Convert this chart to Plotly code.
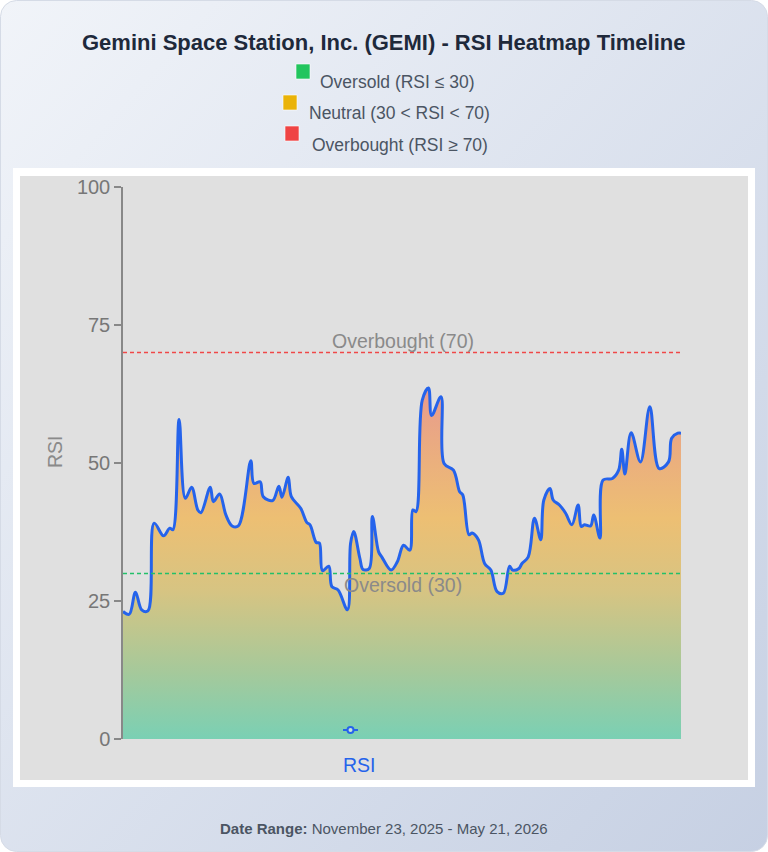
import base64
import plotly.graph_objects as go

# ---------------- data ----------------
dates = [
    "2025-11-23", "2025-11-25", "2025-11-27", "2025-11-29", "2025-12-01", "2025-12-03",
    "2025-12-06", "2025-12-08", "2025-12-09", "2025-12-11", "2025-12-13", "2025-12-15",
    "2025-12-17", "2025-12-18", "2025-12-21", "2025-12-22", "2025-12-24", "2025-12-26",
    "2025-12-28", "2025-12-30", "2026-01-03", "2026-01-04", "2026-01-06", "2026-01-07",
    "2026-01-10", "2026-01-12", "2026-01-13", "2026-01-15", "2026-01-16", "2026-01-19",
    "2026-01-21", "2026-01-22", "2026-01-24", "2026-01-25", "2026-01-26", "2026-01-28",
    "2026-01-29", "2026-01-31", "2026-02-03", "2026-02-04", "2026-02-05", "2026-02-07",
    "2026-02-08", "2026-02-10", "2026-02-11", "2026-02-13", "2026-02-14", "2026-02-17",
    "2026-02-19", "2026-02-21", "2026-02-23", "2026-02-24", "2026-02-25", "2026-02-27",
    "2026-03-01", "2026-03-02", "2026-03-05", "2026-03-06", "2026-03-09", "2026-03-11",
    "2026-03-12", "2026-03-14", "2026-03-15", "2026-03-17", "2026-03-19", "2026-03-21",
    "2026-03-23", "2026-03-25", "2026-03-27", "2026-03-28", "2026-03-30", "2026-03-31",
    "2026-04-02", "2026-04-04", "2026-04-06", "2026-04-07", "2026-04-09", "2026-04-10",
    "2026-04-12", "2026-04-14", "2026-04-16", "2026-04-18", "2026-04-19", "2026-04-20",
    "2026-04-22", "2026-04-23", "2026-04-25", "2026-04-26", "2026-04-29", "2026-05-01",
    "2026-05-02", "2026-05-03", "2026-05-05", "2026-05-08", "2026-05-11", "2026-05-14",
    "2026-05-17", "2026-05-18", "2026-05-20", "2026-05-21",
]
rsi = [
    23.1, 22.6, 26.6, 23.4, 23.2, 39.1,
    36.8, 38.2, 37.9, 57.9, 43.6, 45.6,
    41.5, 41.0, 45.6, 43.0, 44.4, 40.6,
    38.6, 38.6, 50.4, 46.3, 46.6, 43.9,
    43.2, 45.8, 43.8, 47.4, 43.9, 41.8,
    39.2, 38.8, 35.6, 35.5, 30.5, 31.3,
    27.6, 27.0, 23.4, 35.4, 37.6, 32.7,
    30.7, 30.9, 40.3, 33.9, 33.0, 30.6,
    32.1, 35.1, 34.2, 41.5, 41.2, 61.4,
    63.6, 58.6, 62.0, 49.9, 48.7, 44.8,
    44.2, 37.0, 37.3, 36.1, 31.8, 30.6,
    26.7, 26.4, 31.3, 30.6, 30.9, 31.8,
    33.0, 40.0, 36.1, 43.3, 45.4, 43.3,
    42.4, 40.9, 38.8, 42.4, 38.5, 38.8,
    38.6, 40.6, 36.4, 46.9, 47.2, 48.7,
    52.5, 48.0, 55.5, 50.2, 60.2, 49.0,
    50.2, 54.5, 55.4, 55.4,
]
y_ticks = [0, 25, 50, 75, 100]
overbought_level = 70
oversold_level = 30
legend_labels = ["Oversold (RSI ≤ 30)", "Neutral (30 < RSI < 70)", "Overbought (RSI ≥ 70)"]
legend_colors = ["#22c55e", "#eab308", "#ef4444"]
title_text = "Gemini Space Station, Inc. (GEMI) - RSI Heatmap Timeline"
date_range_text = "<b>Date Range:</b> November 23, 2025 - May 21, 2026"

# ---------------- layout geometry ----------------
W, H = 768, 852
L, R, T, B = 123, 681, 187, 739  # plot area in px
PW, PH = R - L, B - T


def px(x):
    return (x - L) / PW


def py(y):
    return (B - y) / PH


FONT = "Liberation Sans, Arial, sans-serif"

fig = go.Figure()
fig.add_trace(go.Scatter(
    x=dates, y=rsi, mode="lines", name="RSI",
    line=dict(color="#2563eb", width=3, shape="spline", smoothing=1.0),
    fill="tozeroy",
    fillgradient=dict(
        type="vertical", start=0, stop=100,
        colorscale=[
            [0.0, "rgb(122,208,180)"],
            [0.12, "rgb(165,201,155)"],
            [0.27, "rgb(215,196,130)"],
            [0.40, "rgb(237,191,115)"],
            [0.50, "rgb(235,176,125)"],
            [0.64, "rgb(232,154,142)"],
            [1.0, "rgb(232,120,120)"],
        ],
    ),
    showlegend=False,
    hoverinfo="x+y",
))

# background card gradient as svg image
svg = (
    f'<svg xmlns="http://www.w3.org/2000/svg" width="{W}" height="{H}">'
    '<defs><linearGradient id="g" x1="0" y1="0" x2="1" y2="1">'
    '<stop offset="0" stop-color="#f1f4f9"/><stop offset="1" stop-color="#c6d0e3"/>'
    '</linearGradient></defs>'
    f'<rect x="0.5" y="0.5" width="{W-1}" height="{H-1}" rx="16" ry="16" fill="url(#g)" '
    'stroke="#d5dbe6" stroke-width="1"/></svg>'
)
src = "data:image/svg+xml;base64," + base64.b64encode(svg.encode()).decode()

shapes = [
    # white frame
    dict(type="rect", xref="paper", yref="paper", x0=px(13), x1=px(755), y0=py(787), y1=py(168),
         fillcolor="#ffffff", line=dict(width=0), layer="below"),
    # grey chart panel
    dict(type="rect", xref="paper", yref="paper", x0=px(20), x1=px(748), y0=py(780), y1=py(176),
         fillcolor="#e0e0e0", line=dict(width=0), layer="below"),
    # threshold lines
    dict(type="line", xref="paper", yref="y", x0=0, x1=1, y0=overbought_level, y1=overbought_level,
         line=dict(color="#f04848", width=1.5, dash="4px,3px")),
    dict(type="line", xref="paper", yref="y", x0=0, x1=1, y0=oversold_level, y1=oversold_level,
         line=dict(color="#22c06a", width=1.5, dash="4px,3px")),
    # small series glyph above the axis label
    dict(type="line", xref="paper", yref="paper", x0=px(343), x1=px(358), y0=py(730), y1=py(730),
         line=dict(color="#2563eb", width=2)),
    dict(type="circle", xref="paper", yref="paper", x0=px(347.5), x1=px(353.5), y0=py(733), y1=py(727),
         line=dict(color="#2563eb", width=2), fillcolor="rgba(200,230,215,1)"),
]

annotations = [
    dict(text=f"<b>{title_text}</b>", xref="paper", yref="paper", x=px(384), y=py(42),
         xanchor="center", yanchor="middle", showarrow=False,
         font=dict(family=FONT, size=22, color="#1e293b")),
    dict(text="Overbought (70)", xref="paper", yref="y", x=px(403), y=overbought_level,
         xanchor="center", yanchor="bottom", yshift=-1, showarrow=False,
         font=dict(family=FONT, size=19.5, color="#8a8a8a")),
    dict(text="Oversold (30)", xref="paper", yref="y", x=px(403), y=oversold_level,
         xanchor="center", yanchor="top", yshift=1, showarrow=False,
         font=dict(family=FONT, size=19.5, color="#8a8a8a")),
    dict(text="RSI", xref="paper", yref="paper", x=px(359), y=py(765),
         xanchor="center", yanchor="middle", showarrow=False,
         font=dict(family=FONT, size=19.5, color="#2563eb")),
    dict(text="RSI", xref="paper", yref="paper", x=px(55), y=py(452), textangle=-90,
         xanchor="center", yanchor="middle", showarrow=False,
         font=dict(family=FONT, size=19.5, color="#8a8a8a")),
    dict(text=date_range_text, xref="paper", yref="paper", x=px(384), y=py(828),
         xanchor="center", yanchor="middle", showarrow=False,
         font=dict(family=FONT, size=15, color="#4b5563")),
]

# custom legend
sq_x = [296, 283, 285]
txt_x = [318, 307, 310]
sq_y = [64, 95, 126]
txt_y = [82, 113, 145]
for lab, col, sx, tx, sy, ty in zip(legend_labels, legend_colors, sq_x, txt_x, sq_y, txt_y):
    shapes.append(dict(type="rect", xref="paper", yref="paper", x0=px(sx), x1=px(sx + 14),
                       y0=py(sy + 15), y1=py(sy), fillcolor=col,
                       line=dict(color="rgba(255,255,255,0.6)", width=1)))
    annotations.append(dict(text=lab, xref="paper", yref="paper", x=px(tx), y=py(ty),
                            xanchor="left", yanchor="middle", showarrow=False,
                            font=dict(family=FONT, size=17.5, color="#4b5563")))

fig.update_layout(
    width=W, height=H, autosize=False,
    margin=dict(l=L, r=W - R, t=T, b=H - B, pad=0),
    paper_bgcolor="#ffffff", plot_bgcolor="rgba(0,0,0,0)",
    font=dict(family=FONT),
    showlegend=False,
    images=[dict(source=src, xref="paper", yref="paper", x=px(0), y=py(0),
                 sizex=W / PW, sizey=H / PH, xanchor="left", yanchor="top",
                 sizing="stretch", layer="below")],
    shapes=shapes,
    annotations=annotations,
    xaxis=dict(range=[dates[0], dates[-1]], showticklabels=False, showgrid=False,
               zeroline=False, showline=False, ticks=""),
    yaxis=dict(range=[0, 100], tickvals=y_ticks, showgrid=False, zeroline=False,
               showline=True, linecolor="#888888", linewidth=1.5,
               ticks="outside", ticklen=7, tickcolor="#888888", tickwidth=1.5,
               tickfont=dict(family=FONT, size=20, color="#777777")),
)

fig.write_html("out.html")
